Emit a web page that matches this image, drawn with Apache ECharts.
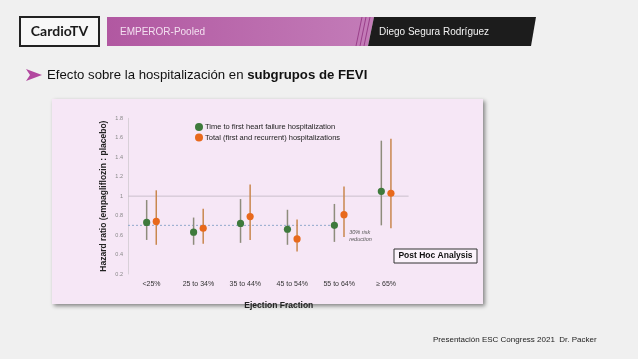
<!DOCTYPE html>
<html><head><meta charset="utf-8">
<script src="https://cdn.jsdelivr.net/npm/echarts@6/dist/echarts.min.js"></script>
<style>html,body{margin:0;padding:0;background:#f0f0f0}#c{width:638px;height:359px}</style>
</head><body><div id="c"></div>
<script>
const categories = ['<25%', '25 to 34%', '35 to 44%', '45 to 54%', '55 to 64%', '\u2265 65%'];
const yTicks = [0.2, 0.4, 0.6, 0.8, 1, 1.2, 1.4, 1.6, 1.8];
const firstHF     = [0.73, 0.63, 0.72, 0.66, 0.70, 1.05];
const firstHFLow  = [0.55, 0.50, 0.52, 0.50, 0.53, 0.70];
const firstHFHigh = [0.96, 0.78, 0.97, 0.86, 0.92, 1.57];
const totalHF     = [0.74, 0.67, 0.79, 0.56, 0.81, 1.03];
const totalLow    = [0.50, 0.51, 0.55, 0.43, 0.58, 0.67];
const totalHigh   = [1.06, 0.87, 1.12, 0.76, 1.10, 1.59];
const seriesNames = ['Time to first heart failure hospitalization', 'Total (first and recurrent) hospitalizations'];
const noEffect = 1;
const riskReduction = 0.70;
const riskReductionEnd = '55 to 64%';

const FONT = '"Liberation Sans", Arial, sans-serif';
const chart = echarts.init(document.getElementById('c'), null, {renderer: 'canvas'});

function errSeries(name, vals, lows, highs, offset, dotColor, barColor) {
  return {
    type: 'custom', name: name, z: 5,
    itemStyle: {color: dotColor},
    data: vals.map((v, i) => [i, v, lows[i], highs[i]]),
    renderItem: function (params, api) {
      const c = api.coord([api.value(0), api.value(1)]);
      const lo = api.coord([api.value(0), api.value(2)]);
      const hi = api.coord([api.value(0), api.value(3)]);
      const x = c[0] + offset;
      return {type: 'group', children: [
        {type: 'line', shape: {x1: x, y1: hi[1], x2: x, y2: lo[1]}, style: {stroke: barColor, lineWidth: 1.5}},
        {type: 'circle', shape: {cx: x, cy: c[1], r: 3.6}, style: {fill: dotColor}}
      ]};
    }
  };
}

const refSeries = {
  type: 'custom', name: 'ref', z: 3, silent: true,
  data: [[0]],
  renderItem: function (params, api) {
    const cs = params.coordSys;
    const y1 = api.coord([0, noEffect])[1];
    const y2 = api.coord([0, riskReduction])[1];
    const xe = api.coord([categories.indexOf(riskReductionEnd), riskReduction])[0] - 4;
    return {type: 'group', children: [
      {type: 'line', shape: {x1: cs.x, y1: y1, x2: cs.x + cs.width - 1, y2: y1}, style: {stroke: '#cbbfcc', lineWidth: 1}},
      {type: 'line', shape: {x1: cs.x, y1: y2, x2: xe, y2: y2}, style: {stroke: '#90a8cc', lineWidth: 1, lineDash: [2, 2]}},
      {type: 'text', x: xe + 14, y: y2 + 4, style: {text: '30% risk\nreduction', fill: '#555', font: 'italic 5.5px ' + FONT, lineHeight: 7}}
    ]};
  }
};

const option = {
  backgroundColor: '#f0f0f0',
  animation: false,
  graphic: [
    {type: 'rect', z: -10, shape: {x: 52, y: 99, width: 431, height: 205}, style: {fill: '#f6e7f6', shadowBlur: 4, shadowOffsetX: 2, shadowOffsetY: 2, shadowColor: 'rgba(0,0,0,0.45)'}},
    // header
    {type: 'rect', shape: {x: 20, y: 17, width: 79, height: 29}, style: {fill: '#f7f7f7', stroke: '#222', lineWidth: 2}},
    {type: 'text', x: 59.5, y: 31.5, style: {text: 'CardioTV', font: 'bold 14px Lato, sans-serif', fill: '#1a1a1a', align: 'center', verticalAlign: 'middle'}},
    {type: 'polygon', shape: {points: [[107, 17], [374, 17], [368, 46], [107, 46]]}, style: {fill: new echarts.graphic.LinearGradient(0, 0, 1, 0, [{offset: 0, color: '#b158a1'}, {offset: 1, color: '#c37cb8'}])}},
    {type: 'polygon', shape: {points: [[374, 17], [536, 17], [531, 46], [368, 46]]}, style: {fill: '#1c1c1c'}},
    {type: 'line', shape: {x1: 362, y1: 17, x2: 356, y2: 46}, style: {stroke: '#9a3f8a', lineWidth: 1}},
    {type: 'line', shape: {x1: 366, y1: 17, x2: 360, y2: 46}, style: {stroke: '#9a3f8a', lineWidth: 1}},
    {type: 'line', shape: {x1: 370, y1: 17, x2: 364, y2: 46}, style: {stroke: '#9a3f8a', lineWidth: 1}},
    {type: 'text', x: 120, y: 32, style: {text: 'EMPEROR-Pooled', font: '10px ' + FONT, fill: '#f3dff0', verticalAlign: 'middle'}},
    {type: 'text', x: 379, y: 32, style: {text: 'Diego Segura Rodríguez', font: '10px ' + FONT, fill: '#f2f2f2', verticalAlign: 'middle'}},
    // title
    {type: 'polygon', shape: {points: [[26, 69], [42, 75], [26, 81], [30, 75]]}, style: {fill: '#b2489f'}},
    {type: 'text', x: 47, y: 75, style: {rich: {a: {font: '13.2px ' + FONT, fill: '#111'}, b: {font: 'bold 13.2px ' + FONT, fill: '#111'}}, text: '{a|Efecto sobre la hospitalización en }{b|subgrupos de FEVI}', verticalAlign: 'middle'}},
    // footer
    {type: 'text', x: 433, y: 340, style: {text: 'Presentación ESC Congress 2021  Dr. Packer', font: '8px ' + FONT, fill: '#222', verticalAlign: 'middle'}},
    // post hoc box
    {type: 'rect', shape: {x: 394, y: 249, width: 83, height: 14}, style: {fill: '#fbf3fb', stroke: '#333', lineWidth: 1}},
    {type: 'text', x: 435.5, y: 256, style: {text: 'Post Hoc Analysis', font: 'bold 8.5px ' + FONT, fill: '#111', align: 'center', verticalAlign: 'middle'}}
  ],
  legend: {
    orient: 'vertical', left: 190, top: 118, itemWidth: 8, itemHeight: 8, itemGap: 2.5, icon: 'circle',
    data: seriesNames,
    textStyle: {fontFamily: FONT, fontSize: 7.5, color: '#222', padding: [0, 0, 0, -3]}
  },
  grid: {left: 128, right: 228.4, top: 118.3, bottom: 85},
  xAxis: {
    type: 'category', data: categories,
    axisLine: {show: false}, axisTick: {show: false},
    axisLabel: {margin: 7, fontSize: 7, color: '#333', fontFamily: FONT},
    name: 'Ejection Fraction', nameLocation: 'middle', nameGap: 27,
    nameTextStyle: {fontWeight: 'bold', fontSize: 8.5, color: '#222', fontFamily: FONT, padding: [0, 0, 0, 20]}
  },
  yAxis: {
    type: 'value', min: 0.2, max: 1.8, interval: 0.2,
    axisLine: {show: true, lineStyle: {color: '#d8d0d8', width: 1}}, axisTick: {show: false}, splitLine: {show: false},
    axisLabel: {fontSize: 5.5, color: '#888', margin: 5, fontFamily: FONT, formatter: v => yTicks.includes(Math.round(v * 10) / 10) ? String(Math.round(v * 10) / 10) : ''},
    name: 'Hazard ratio (empagliflozin : placebo)', nameLocation: 'middle', nameGap: 20, nameRotate: 90,
    nameTextStyle: {fontWeight: 'bold', fontSize: 8.5, color: '#222', fontFamily: FONT}
  },
  series: [
    refSeries,
    errSeries(seriesNames[0], firstHF, firstHFLow, firstHFHigh, -4.8, '#3e7a3c', '#8e8c7c'),
    errSeries(seriesNames[1], totalHF, totalLow, totalHigh, 4.8, '#e8691c', '#c9874e')
  ]
};
chart.setOption(option);
</script></body></html>
